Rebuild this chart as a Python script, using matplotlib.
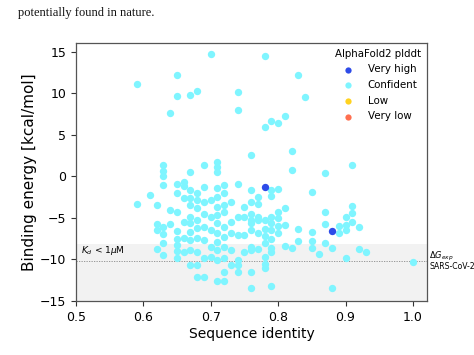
import numpy as np
import matplotlib.pyplot as plt

# confident points, grouped by sequence identity column
conf_cols = {
    0.59: [11.1, -3.35],
    0.61: [-2.3],
    0.62: [-3.5, -5.8, -6.5, -8.8],
    0.63: [1.4, 0.6, 0.0, -1.05, -6.1, -7.0, -8.0, -9.5],
    0.64: [7.6, -4.1, -5.8],
    0.65: [12.2, 9.7, -0.9, -2.0, -4.3, -6.6, -7.6, -8.3, -9.0, -9.9],
    0.66: [-0.7, -1.2, -2.65, -5.5, -7.5, -9.1],
    0.67: [9.75, 0.55, -1.65, -2.65, -3.5, -4.9, -5.7, -6.7, -7.7, -8.9, -10.7],
    0.68: [10.3, -2.05, -2.9, -3.9, -5.3, -6.3, -7.4, -9.1, -10.7, -12.2],
    0.69: [1.4, -1.3, -3.1, -4.55, -6.1, -7.7, -9.9, -12.2],
    0.70: [14.7, -2.9, -4.9, -6.5, -8.5, -9.7],
    0.71: [1.75, 1.1, 0.5, -1.45, -2.5, -3.7, -4.7, -5.7, -6.9, -7.9, -8.9, -10.1, -12.7],
    0.72: [-1.05, -2.05, -3.45, -4.3, -6.1, -7.3, -8.5, -9.9, -11.5, -12.7],
    0.73: [-3.1, -5.5, -6.9, -8.9, -10.7],
    0.74: [10.2, 8.0, -0.9, -4.9, -7.1, -10.1, -10.7, -11.5],
    0.75: [-3.7, -4.9, -7.1, -9.1],
    0.76: [2.5, -1.7, -3.1, -4.6, -5.3, -5.7, -6.5, -8.5, -8.9, -11.6, -13.5],
    0.77: [-2.5, -3.4, -4.9, -5.3, -6.9, -8.8],
    0.78: [14.5, 5.9, -5.3, -6.4, -7.2, -8.0, -9.8, -10.6, -11.1],
    0.79: [6.7, -1.7, -2.4, -4.9, -5.7, -6.5, -7.6, -8.7, -9.1, -13.2],
    0.80: [6.45, -1.6, -4.3, -5.1, -6.0, -6.9],
    0.81: [7.3, -3.8, -5.9, -8.4],
    0.82: [3.0, 0.7, -8.65],
    0.83: [12.2, -6.35, -7.8],
    0.84: [9.6],
    0.85: [-1.9, -6.7, -7.8, -8.7],
    0.86: [-9.35],
    0.87: [0.4, -4.35, -5.75, -8.05],
    0.88: [-8.7, -13.5],
    0.89: [-6.05, -6.85],
    0.90: [-4.9, -5.9, -6.55, -9.9],
    0.91: [1.3, -3.65, -4.5, -5.5],
    0.92: [-6.1, -8.8],
    0.93: [-9.1],
    1.00: [-10.3],
}
conf_x = [k for k, v in conf_cols.items() for _ in v]
conf_y = [y for v in conf_cols.values() for y in v]

high_x = [0.78, 0.88]
high_y = [-1.25, -6.6]

kd_cut = -8.2
dg_exp = -10.2

plt.rcParams['font.family'] = 'DejaVu Sans'
fig = plt.figure(figsize=(4.74, 3.55), dpi=100)
ax = fig.add_axes([0.160, 0.151, 0.741, 0.729])

ax.axhspan(-20, kd_cut, color='#f2f2f2', zorder=0, lw=0)
ax.axhline(dg_exp, color='#888888', ls=(0, (1.5, 1.5)), lw=0.6, zorder=1)

ax.scatter(conf_x, conf_y, s=28, color='#7ff5ff', lw=0, zorder=2, label='Confident')
ax.scatter(high_x, high_y, s=28, color='#2d4be8', lw=0, zorder=3, label='Very high')
ax.scatter([], [], s=28, color='#ffd21f', lw=0, label='Low')
ax.scatter([], [], s=28, color='#ff6f4f', lw=0, label='Very low')

h, l = ax.get_legend_handles_labels()
order = [1, 0, 2, 3]
leg = ax.legend([h[i] for i in order], [l[i] for i in order], title='AlphaFold2 plddt',
                loc='upper right', frameon=False, fontsize=7.4, title_fontsize=7.4,
                markerscale=0.85, handletextpad=0.9, labelspacing=0.55,
                borderaxespad=0.2)

ax.text(0.508, -8.95, r'$K_d$ < 1$\mu$M', fontsize=6.5, ha='left', va='center')
ax.text(1.024, -9.65, r'$\Delta G_{exp}$', fontsize=6, ha='left', va='center', clip_on=False)
ax.text(1.024, -10.9, 'SARS-CoV-2', fontsize=5.6, ha='left', va='center', clip_on=False)

ax.set_xlim(0.5, 1.021)
ax.set_ylim(-15.1, 16.1)
ax.set_xticks([0.5, 0.6, 0.7, 0.8, 0.9, 1.0])
ax.set_yticks([-15, -10, -5, 0, 5, 10, 15])
ax.tick_params(labelsize=9, length=3.5, width=0.8, color='#333333')
for s in ax.spines.values():
    s.set_color('#555555')
    s.set_linewidth(0.9)
ax.set_xlabel('Sequence identity', fontsize=10, labelpad=2)
ax.set_ylabel('Binding energy [kcal/mol]', fontsize=11, labelpad=2)

fig.text(18 / 474, 1 - 13 / 355, 'potentially found in nature.', fontsize=9,
         family='Liberation Serif', ha='left', va='center', color='#111111')

fig.savefig('out.png', dpi=100)
